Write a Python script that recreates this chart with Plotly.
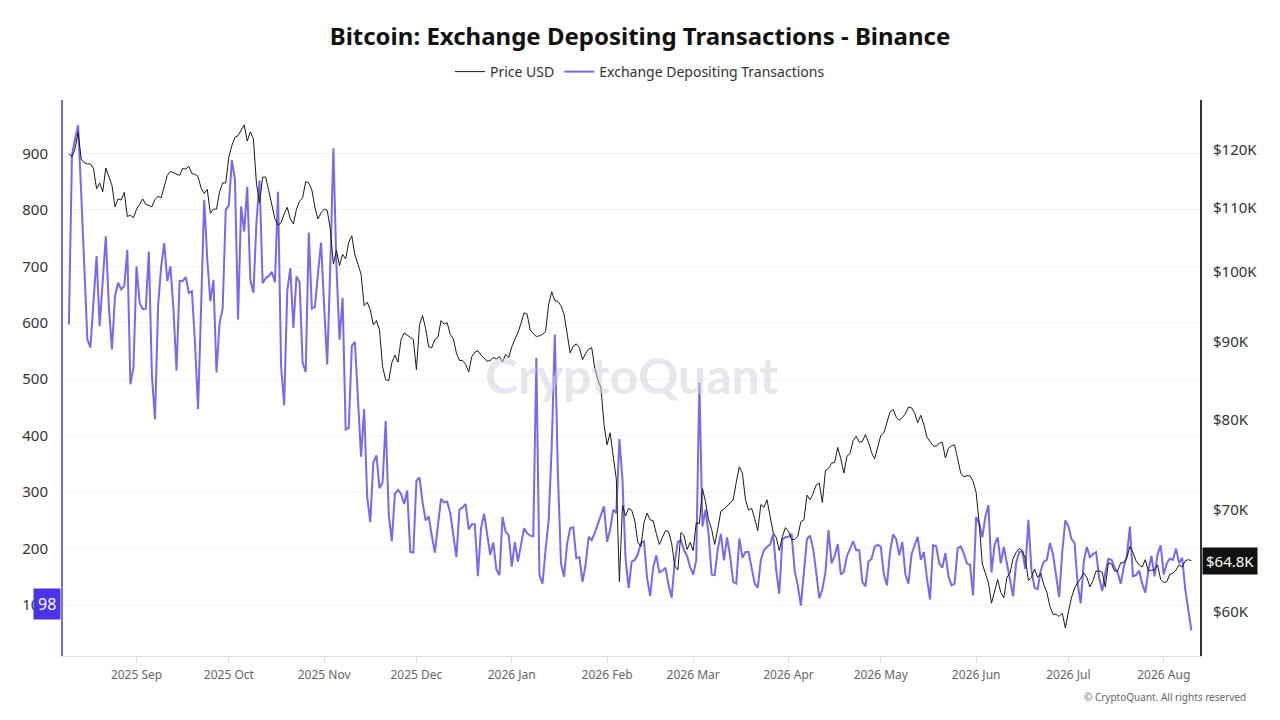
import math
import pandas as pd
import plotly.graph_objects as go

# ---------------- data ----------------
start_date = "2025-08-10"

# Bitcoin price, USD thousands, daily
price_usd_k = [
    119.3, 118.8, 120.2, 123.2, 118.4, 117.7, 117.5, 117.5, 116.7, 113.2,
    114.2, 112.7, 116.8, 115.3, 113.8, 110.2, 111.5, 111.3, 112.6, 108.6,
    108.8, 108.4, 109.8, 110.6, 111.5, 110.6, 110.4, 110.2, 111.4, 111.9,
    111.7, 113.8, 115.5, 116.2, 116.0, 115.8, 115.5, 116.7, 116.6, 117.1,
    115.8, 115.7, 115.3, 113.3, 112.4, 113.1, 109.1, 109.8, 109.8, 112.7,
    114.2, 114.2, 118.7, 120.8, 122.3, 122.6, 123.5, 124.6, 121.6, 123.3,
    122.0, 114.0, 110.9, 115.2, 115.2, 112.9, 110.3, 108.2, 107.2, 107.6,
    109.0, 110.1, 108.2, 107.4, 109.8, 111.1, 111.7, 114.4, 114.2, 113.0,
    110.1, 108.2, 109.2, 109.8, 109.6, 106.6, 101.1, 103.2, 100.9, 102.6,
    101.9, 104.5, 105.5, 102.5, 101.1, 99.6, 95.0, 95.5, 94.4, 92.3,
    92.9, 91.6, 86.7, 85.0, 84.9, 87.2, 88.2, 87.3, 90.3, 91.2,
    90.9, 90.6, 90.3, 86.3, 92.3, 93.6, 91.8, 89.3, 89.2, 90.3,
    90.6, 92.9, 92.4, 92.6, 91.0, 90.4, 88.5, 87.5, 87.5, 87.0,
    86.0, 88.0, 88.6, 88.8, 88.2, 87.8, 87.4, 87.5, 87.9, 87.7,
    88.0, 87.3, 88.3, 87.9, 89.3, 90.3, 91.2, 92.5, 94.0, 93.8,
    91.6, 91.1, 90.7, 90.8, 91.0, 91.4, 95.2, 97.0, 95.7, 95.6,
    95.0, 93.8, 91.0, 88.5, 89.4, 89.7, 89.2, 87.6, 88.4, 89.0,
    89.2, 86.5, 85.0, 84.0, 79.5, 77.1, 78.5, 76.0, 73.2, 62.8,
    70.4, 69.3, 70.1, 69.9, 68.8, 66.6, 66.2, 68.6, 69.6, 68.9,
    68.8, 67.5, 66.4, 67.1, 67.8, 67.7, 66.5, 64.3, 63.9, 67.6,
    67.3, 65.9, 66.6, 65.8, 68.6, 68.5, 72.2, 70.8, 68.9, 67.9,
    66.4, 68.0, 69.8, 70.0, 70.3, 70.6, 71.0, 72.9, 74.6, 73.9,
    71.0, 69.9, 70.1, 69.0, 67.8, 70.5, 70.2, 71.0, 69.4, 67.6,
    67.1, 65.8, 67.2, 68.1, 67.7, 66.9, 66.9, 67.2, 68.7, 68.9,
    71.5, 71.0, 71.7, 72.6, 72.8, 70.7, 74.2, 74.4, 75.0, 75.1,
    76.8, 75.5, 73.9, 75.8, 76.1, 77.6, 78.1, 77.4, 77.5, 78.3,
    77.4, 76.2, 75.5, 76.7, 78.2, 78.5, 79.9, 81.0, 81.3, 80.4,
    80.0, 80.3, 80.8, 81.6, 81.5, 80.9, 79.7, 80.6, 79.5, 78.0,
    77.5, 77.0, 76.9, 77.3, 77.4, 75.6, 76.7, 77.0, 77.1, 75.5,
    73.9, 73.5, 73.6, 73.6, 73.0, 71.8, 68.5, 64.5, 63.6, 62.7,
    60.8, 62.0, 63.0, 61.8, 61.3, 63.2, 63.6, 65.0, 65.6, 66.0,
    65.8, 65.0, 62.9, 63.2, 64.0, 63.2, 63.6, 62.5, 61.8, 60.5,
    59.8, 59.8, 59.6, 59.9, 58.6, 60.0, 61.3, 62.2, 62.7, 63.2,
    63.6, 63.2, 62.3, 62.9, 63.8, 63.8, 63.7, 62.3, 64.6, 64.5,
    63.8, 63.8, 64.6, 64.6, 65.1, 66.2, 65.6, 64.8, 64.4, 64.2,
    64.9, 63.8, 63.9, 63.9, 64.4, 63.0, 62.7, 62.8, 63.5, 63.6,
    63.9, 64.4, 64.2, 64.8, 64.9, 64.8,
]

# Exchange depositing transactions (Binance), daily
depositing_tx = [
    597, 897, 925, 950, 830, 700, 571, 556, 640, 718,
    594, 670, 753, 629, 553, 647, 671, 659, 665, 729,
    491, 521, 700, 635, 624, 625, 726, 506, 429, 629,
    700, 741, 674, 700, 624, 515, 674, 674, 681, 653,
    656, 565, 447, 630, 818, 712, 638, 676, 512, 600,
    625, 800, 808, 888, 853, 606, 806, 762, 841, 676,
    653, 779, 852, 670, 679, 683, 690, 672, 832, 523,
    454, 656, 697, 591, 682, 672, 529, 513, 760, 625,
    628, 688, 742, 629, 526, 700, 909, 700, 570, 644,
    411, 414, 559, 566, 464, 363, 447, 291, 247, 353,
    365, 307, 317, 426, 261, 213, 297, 304, 297, 279,
    303, 194, 193, 320, 326, 282, 250, 257, 223, 193,
    241, 288, 282, 283, 263, 227, 185, 269, 273, 279,
    234, 243, 243, 151, 236, 262, 224, 189, 211, 163,
    153, 256, 230, 224, 168, 212, 177, 204, 236, 227,
    223, 222, 538, 153, 138, 198, 251, 381, 579, 334,
    174, 150, 209, 236, 238, 183, 185, 141, 171, 221,
    215, 228, 245, 261, 275, 212, 234, 269, 263, 394,
    322, 183, 130, 177, 180, 190, 210, 213, 148, 116,
    167, 188, 158, 161, 166, 135, 113, 177, 212, 215,
    197, 187, 167, 154, 180, 494, 239, 269, 226, 154,
    153, 200, 226, 179, 220, 187, 141, 138, 218, 184,
    194, 194, 164, 138, 131, 180, 197, 203, 207, 226,
    161, 120, 217, 220, 221, 226, 161, 135, 99, 161,
    217, 223, 200, 158, 112, 128, 158, 233, 174, 187,
    208, 154, 159, 187, 200, 213, 197, 197, 141, 133,
    177, 182, 203, 207, 203, 154, 135, 194, 225, 217,
    188, 212, 154, 138, 190, 207, 221, 180, 194, 148,
    110, 206, 204, 174, 166, 192, 151, 135, 138, 201,
    204, 191, 174, 171, 117, 256, 245, 220, 256, 277,
    158, 207, 220, 174, 203, 174, 144, 116, 174, 194,
    195, 164, 251, 161, 131, 128, 161, 177, 180, 210,
    190, 154, 114, 194, 250, 240, 217, 210, 138, 103,
    177, 203, 185, 190, 194, 148, 125, 156, 182, 180,
    167, 158, 138, 167, 187, 239, 151, 153, 161, 138,
    122, 161, 187, 151, 190, 206, 154, 174, 182, 180,
    200, 174, 184, 128, 89, 55,
]

left_ticks = [100, 200, 300, 400, 500, 600, 700, 800, 900]
price_ticks_k = [60, 70, 80, 90, 100, 110, 120]
price_tick_text = ["$60K", "$70K", "$80K", "$90K", "$100K", "$110K", "$120K"]
last_price_label = "$64.8K"
last_price_value = 64800
last_tx_label = "98"
last_tx_value = 98

# ---------------- build ----------------
t0 = pd.Timestamp(start_date)
price_dates = [t0 + pd.Timedelta(days=i) for i in range(len(price_usd_k))]
tx_dates = [t0 + pd.Timedelta(days=i) for i in range(len(depositing_tx))]
price_usd = [v * 1000 for v in price_usd_k]

PURPLE = "#7B68EE"
FONT = "Noto Sans"

# page body adds an 8px margin, so the figure is drawn 8px in from the corner
W, H = 1264, 704
OFF = 8

fig = go.Figure()
fig.add_trace(go.Scatter(
    x=price_dates, y=price_usd, name="Price USD", yaxis="y2",
    mode="lines", line=dict(color="#1a1a1a", width=1),
))
fig.add_trace(go.Scatter(
    x=tx_dates, y=depositing_tx, name="Exchange Depositing Transactions",
    mode="lines", line=dict(color=PURPLE, width=2),
))

x_start = t0 - pd.Timedelta(hours=46)
x_end = t0 + pd.Timedelta(hours=int(367.8 * 24))

plot_top, plot_bottom = 99 - OFF, 656 - OFF
plot_h = plot_bottom - plot_top

fig.update_layout(
    width=W, height=H,
    paper_bgcolor="white", plot_bgcolor="white",
    margin=dict(l=63 - OFF, r=W - (1200 - OFF), t=plot_top, b=H - plot_bottom),
    font=dict(family=FONT, color="#333333", size=14),
    title=dict(
        text="<b>Bitcoin: Exchange Depositing Transactions - Binance</b>",
        x=(640 - OFF) / W, xanchor="center", y=1 - (37 - OFF) / H, yanchor="middle",
        font=dict(family=FONT, size=24, color="#111111"),
    ),
    showlegend=True,
    legend=dict(
        orientation="h", xref="container", x=(640 - OFF) / W, xanchor="center",
        yref="container", y=1 - (72 - OFF) / H, yanchor="middle",
        font=dict(size=14, color="#333333"), itemwidth=30,
        bgcolor="rgba(0,0,0,0)",
    ),
    xaxis=dict(
        type="date", range=[x_start, x_end],
        tickformat="%Y %b", dtick="M1", tick0="2025-09-01",
        ticks="outside", ticklen=6, tickcolor="#dcdce6",
        showline=True, linecolor="#dcdce6", linewidth=1,
        showgrid=False, zeroline=False, ticklabelstandoff=2,
        tickfont=dict(size=12, color="#666666"),
    ),
    yaxis=dict(
        range=[9.8, 994.6], tickvals=left_ticks,
        showline=True, linecolor=PURPLE, linewidth=2,
        showgrid=True, gridcolor="#f2f2f4", gridwidth=1,
        zeroline=False, ticks="", ticklabelstandoff=10,
        tickfont=dict(size=15, color="#333333"),
    ),
    yaxis2=dict(
        type="log", overlaying="y", side="right",
        range=[4.7495, 5.1117],
        tickvals=[v * 1000 for v in price_ticks_k], ticktext=price_tick_text,
        showline=True, linecolor="#333333", linewidth=2,
        showgrid=False, zeroline=False, ticks="", ticklabelstandoff=8,
        tickfont=dict(size=15, color="#333333"),
    ),
)

# watermark
fig.add_annotation(
    text="<b>CryptoQuant</b>", xref="paper", yref="paper", x=0.5, y=0.505,
    showarrow=False, font=dict(family="Lato", size=50, color="rgba(205,205,220,0.5)"),
)
# last value labels
fig.add_annotation(
    text=last_price_label, xref="paper", yref="y2", x=1, y=math.log10(last_price_value),
    xanchor="left", yanchor="middle", showarrow=False, xshift=2,
    bgcolor="#111111", font=dict(size=15, color="white"), borderpad=3,
)
fig.add_annotation(
    text=last_tx_label, xref="paper", yref="y", x=0, y=last_tx_value,
    xanchor="right", yanchor="middle", showarrow=False, xshift=-2, yshift=2,
    bgcolor="#4a32e6", font=dict(size=16, color="white"), borderpad=4,
)
# footer
fig.add_annotation(
    text="© CryptoQuant. All rights reserved", xref="paper", yref="paper",
    x=1, y=(plot_bottom - (697 - OFF)) / plot_h, xanchor="right", yanchor="middle",
    xshift=48, showarrow=False, font=dict(size=10, color="#666666"),
)

fig.write_html("out.html")
